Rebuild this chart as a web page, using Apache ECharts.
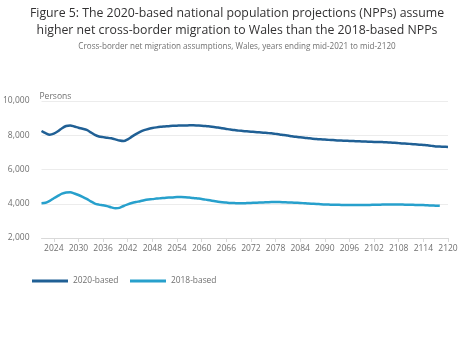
<!DOCTYPE html>
<html>
<head>
<meta charset="utf-8">
<script src="https://cdn.jsdelivr.net/npm/echarts@6/dist/echarts.min.js"></script>
<style>
  html, body { margin: 0; padding: 0; background: #fff; }
  #chart { width: 474px; height: 339px; }
</style>
</head>
<body>
<div id="chart"></div>
<script>
// Years ending mid-2021 to mid-2120
const years = [];
for (let y = 2021; y <= 2120; y++) years.push(String(y));

// Cross-border net migration, persons
const based2020 = [
  8250, 8120, 8030, 8090, 8230, 8410, 8540, 8570, 8510, 8440,
  8380, 8310, 8170, 8020, 7930, 7890, 7860, 7820, 7760, 7690,
  7660, 7760, 7920, 8070, 8200, 8300, 8370, 8420, 8460, 8490,
  8510, 8530, 8550, 8560, 8570, 8570, 8580, 8580, 8570, 8560,
  8540, 8510, 8480, 8450, 8410, 8370, 8330, 8300, 8270, 8250,
  8230, 8210, 8190, 8170, 8150, 8130, 8110, 8080, 8050, 8010,
  7980, 7940, 7910, 7880, 7860, 7830, 7800, 7780, 7760, 7750,
  7730, 7720, 7700, 7690, 7680, 7670, 7660, 7650, 7640, 7630,
  7620, 7610, 7610, 7600, 7590, 7570, 7560, 7540, 7520, 7510,
  7490, 7470, 7450, 7430, 7410, 7380, 7350, 7340, 7330, 7320
];

const based2018 = [
  4030, 4060, 4170, 4320, 4460, 4590, 4660, 4670, 4600, 4510,
  4400, 4280, 4140, 4010, 3950, 3910, 3860, 3790, 3740, 3760,
  3870, 3960, 4040, 4100, 4150, 4210, 4250, 4270, 4300, 4320,
  4340, 4360, 4370, 4390, 4390, 4380, 4360, 4340, 4310, 4280,
  4240, 4200, 4160, 4120, 4090, 4070, 4050, 4040, 4030, 4030,
  4040, 4050, 4060, 4070, 4080, 4090, 4100, 4100, 4100, 4090,
  4080, 4070, 4060, 4050, 4030, 4010, 4000, 3990, 3970, 3960,
  3950, 3940, 3940, 3930, 3930, 3920, 3920, 3920, 3920, 3930,
  3930, 3940, 3940, 3950, 3950, 3950, 3950, 3950, 3950, 3940,
  3940, 3930, 3930, 3920, 3910, 3900, 3890, 3880, null, null
];

const yTicks = { min: 2000, max: 10000, interval: 2000 };
const labelEvery = 6;
const firstLabelYear = 2024;

const FONT = '"Open Sans", "Noto Sans", sans-serif';
const showYear = (idx, val) => (Number(val) - firstLabelYear) % labelEvery === 0;

const legendBase = {
  top: 277, padding: 0,
  icon: 'rect', itemWidth: 36, itemHeight: 3,
  textStyle: { fontFamily: FONT, fontSize: 8.4, color: '#707070' }
};

const chart = echarts.init(document.getElementById('chart'), null, { renderer: 'canvas' });
chart.setOption({
  animation: false,
  backgroundColor: '#fff',
  textStyle: { fontFamily: FONT },
  title: [
    {
      text: 'Figure 5: The 2020-based national population projections (NPPs) assume\nhigher net cross-border migration to Wales than the 2018-based NPPs',
      left: 'center', top: 5, padding: 0,
      textStyle: { fontFamily: FONT, fontSize: 12.3, fontWeight: 'normal', color: '#323132', lineHeight: 17, align: 'center' }
    },
    {
      text: 'Cross-border net migration assumptions, Wales, years ending mid-2021 to mid-2120',
      left: 'center', top: 43, padding: 0,
      textStyle: { fontFamily: FONT, fontSize: 8.1, fontWeight: 'normal', color: '#707070' }
    }
  ],
  legend: [
    Object.assign({}, legendBase, { left: 32, data: ['2020-based'] }),
    Object.assign({}, legendBase, { left: 130, data: ['2018-based'] })
  ],
  grid: { left: 40, right: 26, top: 101, bottom: 101, containLabel: false },
  xAxis: {
    type: 'category',
    data: years,
    boundaryGap: false,
    axisLine: { lineStyle: { color: '#d9d9d9', width: 1 } },
    axisTick: { show: true, interval: showYear, length: 4, lineStyle: { color: '#d9d9d9' } },
    axisLabel: { interval: showYear, color: '#707070', fontSize: 8.5, fontFamily: FONT, margin: 6 },
    splitLine: { show: false }
  },
  yAxis: {
    type: 'value',
    min: yTicks.min, max: yTicks.max, interval: yTicks.interval,
    name: 'Persons',
    nameLocation: 'end',
    nameGap: 0,
    nameTextStyle: { color: '#707070', fontSize: 8.5, fontFamily: FONT, align: 'left', padding: [0, 0, 0, -2] },
    axisLine: { show: false },
    axisTick: { show: false },
    axisLabel: {
      color: '#707070', fontSize: 8.5, fontFamily: FONT, margin: 12,
      formatter: v => v.toLocaleString('en-GB')
    },
    splitLine: { lineStyle: { color: '#ececec', width: 1 } }
  },
  series: [
    {
      name: '2020-based', type: 'line', data: based2020,
      smooth: 0.3, showSymbol: false,
      lineStyle: { color: '#206095', width: 2.5 },
      itemStyle: { color: '#206095' }
    },
    {
      name: '2018-based', type: 'line', data: based2018,
      smooth: 0.3, showSymbol: false,
      lineStyle: { color: '#27a0cc', width: 2.5 },
      itemStyle: { color: '#27a0cc' }
    }
  ]
});
</script>
</body>
</html>
